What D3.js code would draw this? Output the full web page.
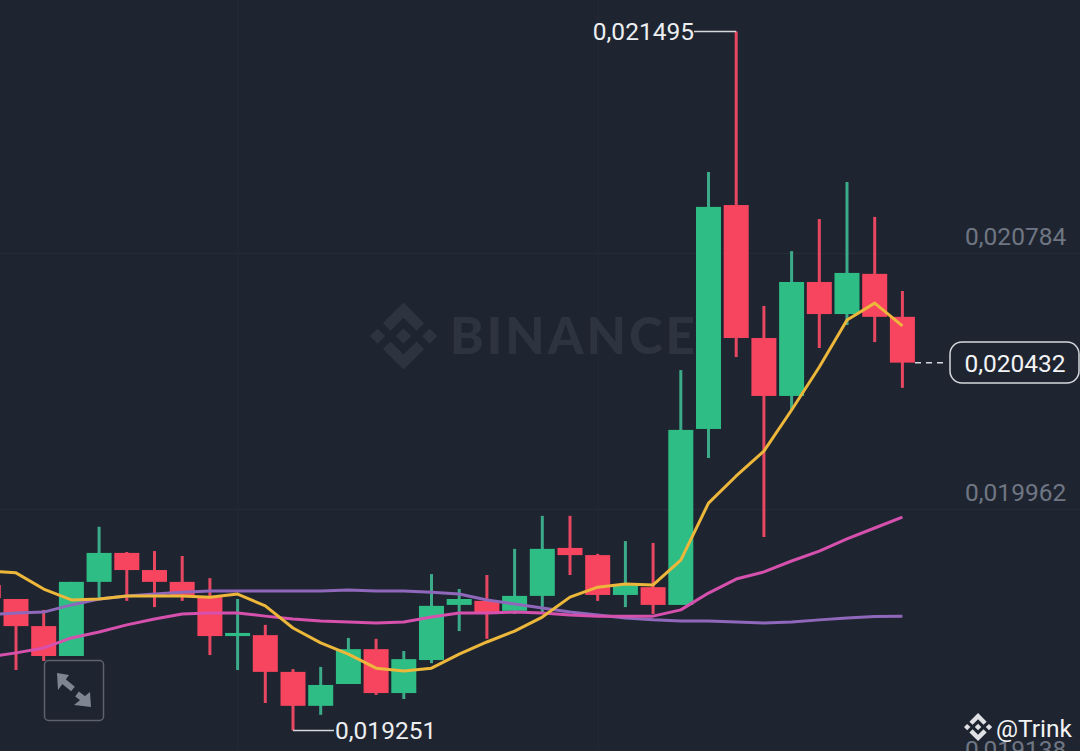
<!DOCTYPE html>
<html>
<head>
<meta charset="utf-8">
<script src="https://cdn.jsdelivr.net/npm/d3@7/dist/d3.min.js"></script>
<style>
html,body{margin:0;padding:0;background:#1f2530;overflow:hidden}
svg{display:block}
text{font-family:Roboto,sans-serif}
</style>
</head>
<body>
<svg id="c" width="1080" height="751"></svg>
<script>
// prices in millionths (20784 reads 0,020784)
const opens  = [19718,19673,19586,19490,19728,19821,19766,19728,19679,19554,19557,19439,19330,19400,19512,19371,19477,19654,19667,19635,19683,19837,19814,19686,19711,19654,20219,20938,20511,20325,20691,20588,20717,20579];
const highs  = [19750,19673,19638,19728,19905,19824,19827,19811,19740,19673,19590,19448,19455,19548,19545,19506,19753,19705,19750,19834,19940,19940,19818,19859,19853,20408,21044,21495,20614,20790,20893,21012,20900,20662];
const lows   = [19638,19445,19474,19490,19670,19667,19647,19667,19493,19445,19339,19251,19301,19400,19365,19352,19467,19570,19545,19625,19628,19750,19667,19647,19625,19654,20126,20450,19872,20280,20479,20553,20498,20351];
const closes = [19676,19586,19490,19728,19821,19766,19728,19686,19554,19564,19439,19330,19397,19512,19371,19480,19651,19673,19631,19683,19834,19814,19686,19721,19654,20216,20932,20511,20325,20691,20588,20720,20579,20432];
const maFast = [19763,19757,19705,19670,19673,19683,19683,19683,19679,19689,19651,19580,19532,19496,19451,19442,19451,19496,19535,19570,19615,19679,19711,19721,19718,19798,19981,20068,20148,20280,20418,20569,20623,20550];
const maMid  = [19487,19500,19516,19548,19567,19590,19609,19625,19628,19628,19618,19609,19602,19599,19596,19599,19615,19628,19628,19631,19628,19622,19618,19618,19618,19638,19692,19737,19760,19795,19827,19866,19901,19936];
const maSlow = [19622,19628,19631,19654,19673,19683,19689,19695,19699,19699,19699,19699,19699,19702,19699,19699,19695,19689,19670,19657,19644,19631,19622,19612,19606,19602,19602,19599,19596,19599,19606,19612,19617,19618];
const axisTicks = [20784,19962,19138];
const gridColumns = [9,22];
const highLabel = {i:27, v:21495};
const lowLabel  = {i:11, v:19251};
const lastPrice = 20432;
const watermark = "BINANCE";
const handle = "@Trink";

const fmt = v => "0,0" + v;
const LOGO = "M38.73 53.2L63.3 28.63l24.58 24.58 14.3-14.29L63.3 0 24.42 38.9zM0 63.31l14.3-14.3 14.29 14.3-14.3 14.29zM38.73 73.41L63.3 97.98l24.58-24.58 14.3 14.29L63.3 126.61 24.42 87.7zM98.28 63.31l14.3-14.3 14.29 14.3-14.29 14.3zM77.83 63.3L63.3 48.78 48.79 63.28l14.51 14.53z";

const svg = d3.select("#c");
const bg = "#1f2530";
svg.append("rect").attr("width",1080).attr("height",751).attr("fill",bg);

const x = d3.scaleLinear().domain([0,33]).range([-11.7,902.4]);
const y = d3.scaleLinear().domain([20784,19962]).range([253,509]);

// grid
const gridY = svg.append("g").call(d3.axisRight(y).tickValues(axisTicks).tickSize(1080).tickFormat(""));
gridY.select(".domain").remove();
gridY.selectAll("line").attr("stroke","#262c37");
const gridX = svg.append("g").attr("transform","translate(0,751)")
  .call(d3.axisTop(x).tickValues(gridColumns).tickSize(751).tickFormat(""));
gridX.select(".domain").remove();
gridX.selectAll("line").attr("stroke","#252b36");

// watermark
svg.append("path").attr("d",LOGO).attr("fill","#2e343f")
  .attr("transform","translate(370,302.5) scale(0.53)");
svg.append("text").text(watermark).attr("x",450).attr("y",354)
  .attr("font-size",51).attr("font-weight",900).attr("fill","#2e343f")
  .attr("letter-spacing",3).style("font-family","Lato,Roboto,sans-serif");

// candles
const green="#2ebd85", red="#f8455f", greenWick="#3cab8a", redWick="#e84762";
const idx = d3.range(opens.length);
const isUp = i => closes[i] >= opens[i];
const g = svg.append("g");
g.selectAll("line.w").data(idx).join("line").attr("class","w")
  .attr("x1",x).attr("x2",x)
  .attr("y1",i=>y(highs[i])).attr("y2",i=>y(lows[i]))
  .attr("stroke",i=>isUp(i)?greenWick:redWick).attr("stroke-width",3);
g.selectAll("rect").data(idx).join("rect")
  .attr("x",i=>x(i)-12.5).attr("width",25)
  .attr("y",i=>y(Math.max(opens[i],closes[i])))
  .attr("height",i=>Math.max(1,Math.abs(y(opens[i])-y(closes[i]))))
  .attr("fill",i=>isUp(i)?green:red);

// moving averages
const line = d3.line().x((d,i)=>x(i)).y(d=>y(d));
[[maSlow,"#9068bb"],[maMid,"#d650ae"],[maFast,"#ecb73a"]].forEach(([s,c])=>{
  svg.append("path").datum(s).attr("d",line).attr("fill","none")
    .attr("stroke",c).attr("stroke-width",3).attr("stroke-linejoin","round");
});

// right axis labels
const labelAxis = svg.append("g").attr("transform","translate(965,-16)")
  .call(d3.axisRight(y).tickValues(axisTicks).tickSize(0).tickPadding(0).tickFormat(fmt));
labelAxis.select(".domain").remove();
labelAxis.selectAll("text").attr("fill","#6f7683").attr("font-size",24.5).attr("text-anchor","start")
  .style("font-family","Roboto,sans-serif");

// high / low callouts
const callout="#d5d8dd", txt="#eceef1";
svg.append("line").attr("x1",x(highLabel.i)).attr("x2",694)
  .attr("y1",y(highLabel.v)).attr("y2",y(highLabel.v)).attr("stroke",callout).attr("stroke-width",1.5);
svg.append("text").text(fmt(highLabel.v)).attr("x",694).attr("y",y(highLabel.v))
  .attr("dy","0.35em").attr("text-anchor","end").attr("font-size",24.5).attr("fill",txt);
svg.append("line").attr("x1",x(lowLabel.i)).attr("x2",334)
  .attr("y1",y(lowLabel.v)).attr("y2",y(lowLabel.v)).attr("stroke",callout).attr("stroke-width",1.5);
svg.append("text").text(fmt(lowLabel.v)).attr("x",335).attr("y",y(lowLabel.v))
  .attr("dy","0.35em").attr("font-size",24.5).attr("fill",txt);

// last price
svg.append("line").attr("x1",915).attr("x2",943)
  .attr("y1",y(lastPrice)).attr("y2",y(lastPrice))
  .attr("stroke",callout).attr("stroke-width",1.5).attr("stroke-dasharray","6 5");
svg.append("rect").attr("x",950).attr("y",342).attr("width",129).attr("height",41).attr("rx",12)
  .attr("fill",bg).attr("stroke","#d5d8dd").attr("stroke-width",1.5);
svg.append("text").text(fmt(lastPrice)).attr("x",1015).attr("y",363)
  .attr("dy","0.35em").attr("text-anchor","middle").attr("font-size",24.5).attr("fill","#f2f3f5");

// expand button
svg.append("rect").attr("x",44.5).attr("y",660.5).attr("width",59).attr("height",60).attr("rx",4)
  .attr("fill","none").attr("stroke","#5b616d").attr("stroke-width",1.5);
const ic = "#7f8692";
svg.append("path").attr("fill",ic).attr("d","M57 673L69 675L58 690Z");
svg.append("path").attr("fill",ic).attr("d","M91 707L74 705L90 692Z");
svg.append("path").attr("stroke",ic).attr("stroke-width",6).attr("d","M62 680L73 689M85 700L77 694");

// signature
svg.append("path").attr("d",LOGO).attr("fill","#dfe1e5")
  .attr("transform","translate(964,713) scale(0.222)");
svg.append("text").text(handle).attr("x",996).attr("y",728).attr("dy","0.35em")
  .attr("font-size",24.5).attr("fill","#f2f3f5");
</script>
</body>
</html>
